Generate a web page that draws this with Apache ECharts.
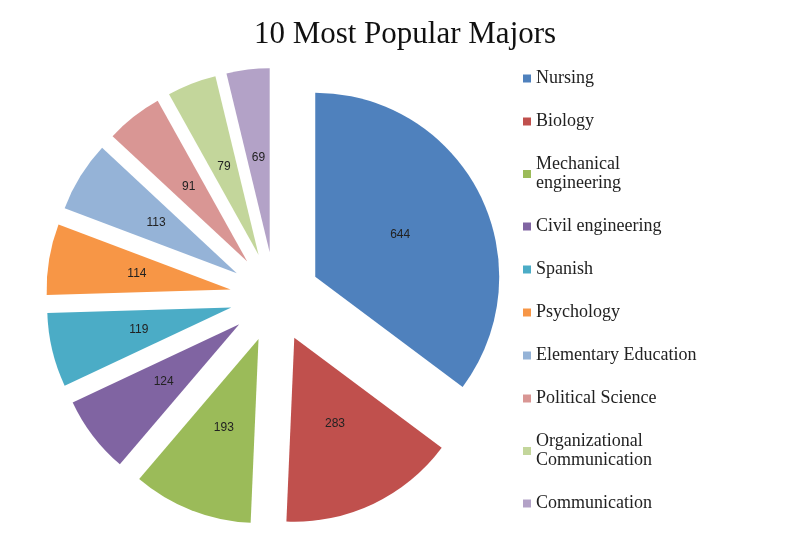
<!DOCTYPE html>
<html><head><meta charset="utf-8">
<script src="https://cdn.jsdelivr.net/npm/echarts@6/dist/echarts.min.js"></script>
<style>html,body{margin:0;padding:0;background:#fff}#c{width:800px;height:547px}</style>
</head><body><div id="c"></div>
<script>
const categories = ['Nursing','Biology','Mechanical\nengineering','Civil engineering','Spanish','Psychology','Elementary Education','Political Science','Organizational\nCommunication','Communication'];
const values = [644,283,193,124,119,114,113,91,79,69];
const colors = ['#4F81BD','#C0504D','#9BBB59','#8064A2','#4BACC6','#F79646','#95B3D7','#D99694','#C3D69B','#B3A2C7'];
const chart = echarts.init(document.getElementById('c'));
chart.setOption({
  backgroundColor:'#fff',
  color: colors,
  title:{text:'10 Most Popular Majors',left:400,textAlign:'center',top:14,
    textStyle:{fontFamily:'Liberation Serif',fontSize:31,fontWeight:'normal',color:'#111'}},
  legend:{orient:'vertical',left:518,top:64,itemWidth:8,itemHeight:8,itemGap:24,icon:'rect',
    selectedMode:false,
    textStyle:{fontFamily:'Liberation Serif',fontSize:18,color:'#222',lineHeight:19},
    data:categories},
  series:[{type:'pie',center:[275,297],radius:[0,184],startAngle:90,clockwise:true,
    selectedMode:'multiple',selectedOffset:45,animation:false,
    label:{show:true,position:'inside',fontFamily:'Liberation Sans',fontSize:12,color:'#222',
      formatter:p=>p.value},
    labelLine:{show:false},
    emphasis:{scale:false},
    data:categories.map((n,i)=>({name:n,value:values[i],selected:true}))}]
});
</script></body></html>
